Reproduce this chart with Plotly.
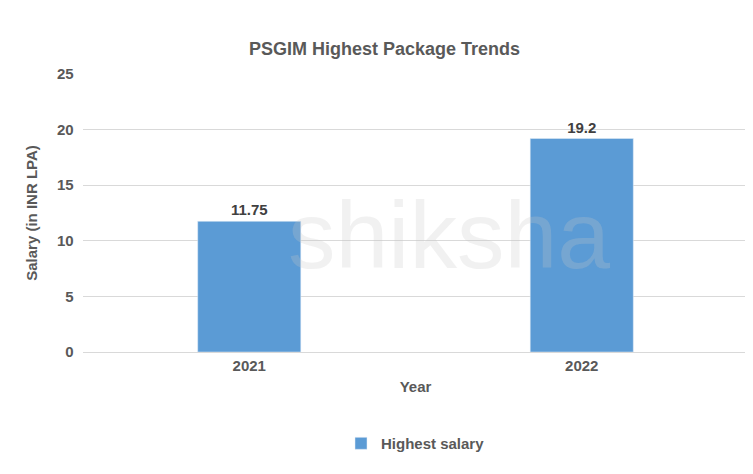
import plotly.graph_objects as go

years = ["2021", "2022"]
salary = [11.75, 19.2]
labels = ["<b>11.75</b>", "<b>19.2</b>"]

font = "Liberation Sans"
grey = "#595959"

fig = go.Figure()
fig.add_trace(go.Bar(
    x=years, y=salary, name="<b>Highest salary</b>",
    marker_color="#5B9BD5", width=0.31,
    text=labels, textposition="outside",
    textfont=dict(family=font, size=15, color="#404040"),
    cliponaxis=False,
))

fig.add_annotation(
    text="shiksha", xref="paper", yref="paper", x=0.55, y=0.42,
    showarrow=False, font=dict(family=font, size=95, color="rgba(200,200,200,0.25)"),
)

fig.update_layout(
    width=753, height=474,
    paper_bgcolor="white", plot_bgcolor="white",
    margin=dict(l=75, r=13, t=66, b=130, autoexpand=False),
    title=dict(text="<b>PSGIM Highest Package Trends</b>", x=0.5, xanchor="center",
               y=0.915, yanchor="middle", font=dict(family=font, size=18, color=grey)),
    font=dict(family=font, color=grey),
    showlegend=True,
    legend=dict(orientation="h", x=0.5, xanchor="center", y=-0.27, yanchor="top",
                font=dict(family=font, size=15, color=grey)),
    xaxis=dict(title=dict(text="<b>Year</b>", font=dict(size=15, color=grey), standoff=8),
               tickfont=dict(size=15, color=grey), showline=True, linecolor="#d9d9d9",
               tickprefix="<b>", ticksuffix="</b>"),
    yaxis=dict(title=dict(text="<b>Salary (in INR LPA)</b>", font=dict(size=15, color=grey)),
               range=[0, 25], dtick=5, gridcolor="#d9d9d9", zeroline=False,
               tickfont=dict(size=15, color=grey), tickprefix="<b>", ticksuffix="</b>  "),
)

fig.write_html("out.html")
